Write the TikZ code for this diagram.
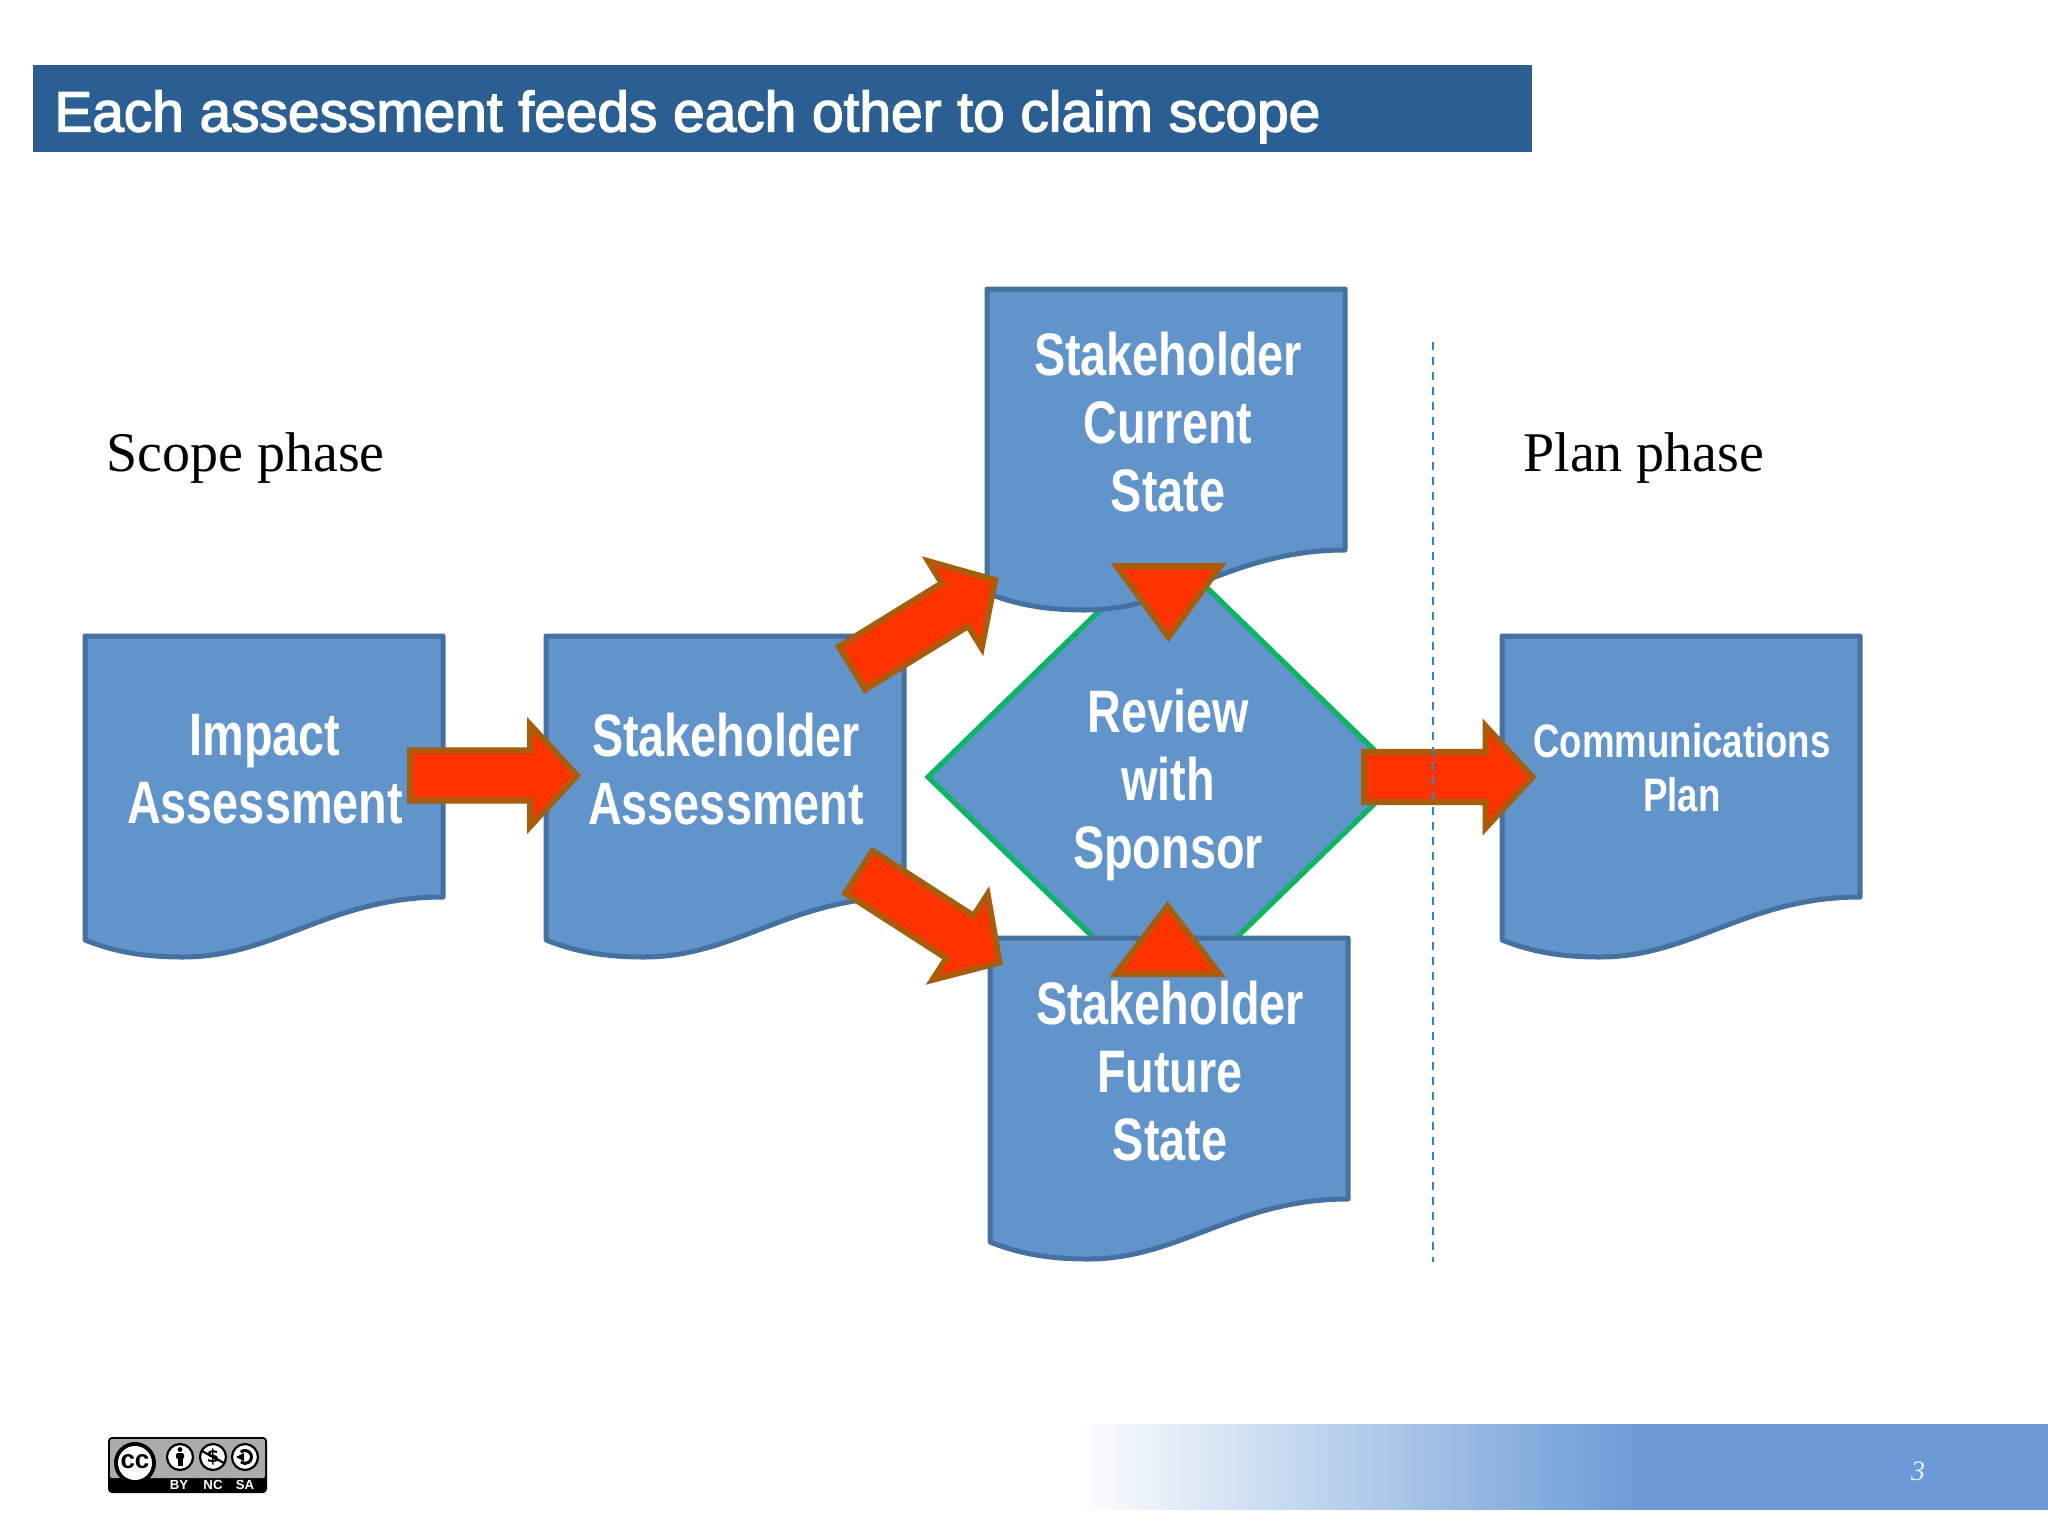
\documentclass[tikz,border=0pt]{standalone}
\usepackage{fontspec}
\setmainfont{Liberation Serif}
\newfontfamily\sansf{Liberation Sans}
\newfontfamily\titlef[FakeBold=2.5]{Liberation Sans}
\newfontfamily\docfont[FakeStretch=0.78]{Liberation Sans}
\newfontfamily\dejav{DejaVu Sans}
\usetikzlibrary{calc}
\definecolor{titleblue}{HTML}{2B5F93}
\definecolor{docfill}{HTML}{6094CB}
\definecolor{docedge}{HTML}{44719F}
\definecolor{arrowfill}{HTML}{FF3300}
\definecolor{arrowedge}{HTML}{A85C0C}
\definecolor{diamondedge}{HTML}{0CB464}
\definecolor{footblue}{HTML}{6A9BD6}
\definecolor{divider}{HTML}{2A8AC8}
\definecolor{badgegray}{HTML}{ABABAB}
\tikzset{
  x=0.5pt,y=-0.5pt,
  docshape/.style={draw=docedge,fill=docfill,line width=2.5pt,line join=round},
  doc/.pic={
    \draw[docshape] (0,0) -- (358,0) -- (358,261)
      .. controls (245,261) and (190,321) .. (98,321)
      .. controls (60,321) and (30,316) .. (0,304) -- cycle;
  },
  doctext/.style={text=white,align=center,font=\docfont\bfseries\fontsize{30}{34}\selectfont},
  smalltext/.style={text=white,align=center,font=\docfont\bfseries\fontsize{23.5}{27}\selectfont},
  phase/.style={text=black,anchor=base west,font=\fontsize{28}{30}\selectfont},
  blockarrow/.style={draw=arrowedge,fill=arrowfill,line width=3pt,miter limit=10,
    to path={let \p1=(\tikztostart),\p2=(\tikztotarget),\p3=($(\p2)!23.5pt!(\p1)$) in
      ($(\p1)!12.6pt!90:(\p2)$) -- ($(\p3)!12.6pt!90:(\p2)$) -- ($(\p3)!25.5pt!90:(\p2)$) -- (\p2)
      -- ($(\p3)!25.5pt!-90:(\p2)$) -- ($(\p3)!12.6pt!-90:(\p2)$) -- ($(\p1)!12.6pt!-90:(\p2)$) -- cycle}},
  triarrow/.style={draw=arrowedge,fill=arrowfill,line width=3pt,miter limit=10,
    to path={let \p1=(\tikztostart),\p2=(\tikztotarget) in
      ($(\p1)!26pt!90:(\p2)$) -- (\p2) -- ($(\p1)!26pt!-90:(\p2)$) -- cycle}},
  ccicon/.style={draw=black,fill=white,line width=1.1pt},
}
\begin{document}
\begin{tikzpicture}
\useasboundingbox (0,0) rectangle (2048,1536);
\fill[white] (0,0) rectangle (2048,1536);
% title
\fill[titleblue] (33,65) rectangle (1532,152);
\node[text=white,anchor=base west,inner sep=0pt,font=\titlef\fontsize{28.4}{32}\selectfont] (title) at (54,131.5) {Each assessment feeds each other to claim scope};
% footer
\begin{scope}
\clip (0,1424) rectangle (2048,1509);
\shade[left color=white,right color=footblue] (1070,1400) rectangle (1640,1530);
\fill[footblue] (1639,1400) rectangle (2048,1530);
\end{scope}
\node[text=white!85!footblue,font=\itshape\fontsize{14}{15}\selectfont] (pagenum) at (1918,1471) {3};
% phases
\node[phase,inner sep=0pt] (scope) at (106,471) {Scope phase};
\node[phase,inner sep=0pt] (plan) at (1523,471) {Plan phase};
% diamond
\draw[fill=docfill,draw=diamondedge,line width=2.6pt,line join=miter] (928,777) -- (1165,547) -- (1402,777) -- (1165,1007) -- cycle;
% documents
\pic at (85,636) {doc};
\pic at (546,636) {doc};
\pic at (1502,636) {doc};
\pic at (987,289) {doc};
\pic at (990,938) {doc};
% divider
\coordinate (divtop) at (1433,342);
\coordinate (divbot) at (1433,1262);
% arrow ends
\coordinate (a1s) at (410,775.5); \coordinate (a1e) at (577,775.5);
\coordinate (a2s) at (852,668); \coordinate (a2e) at (995,580);
\coordinate (a3s) at (859,872); \coordinate (a3e) at (999.5,962.5);
\coordinate (a4s) at (1364,777); \coordinate (a4e) at (1532.5,777);
\coordinate (t1s) at (1168.5,566); \coordinate (t1e) at (1168.5,637);
\coordinate (t2s) at (1167.5,974); \coordinate (t2e) at (1167.5,906);
\draw[blockarrow] (a1s) to (a1e);
\draw[blockarrow] (a2s) to (a2e);
\draw[blockarrow] (a3s) to (a3e);
\draw[blockarrow] (a4s) to (a4e);
\draw[triarrow] (t1s) to (t1e);
\draw[triarrow] (t2s) to (t2e);
\draw[divider,line width=1.4pt,dash pattern=on 4.2pt off 3.3pt] (divtop) -- (divbot);
% texts
\node[doctext] (impact) at (265,769) {Impact\\Assessment};
\node[doctext] (stake) at (726,769) {Stakeholder\\Assessment};
\node[doctext] (current) at (1168,422) {Stakeholder\\Current\\State};
\node[doctext] (future) at (1170,1071) {Stakeholder\\Future\\State};
\node[doctext] (review) at (1168,785) {Review\\with\\Sponsor};
\node[smalltext] (comm) at (1682,768) {Communications\\Plan};
% cc badge
\fill[black,rounded corners=2pt] (108,1437) rectangle (267,1493);
\fill[badgegray,rounded corners=1pt] (110,1439) rectangle (265,1478);
\fill[black] (135,1463) circle[radius=21];
\fill[white] (135,1463) circle[radius=17];
\node[font=\sansf\bfseries\fontsize{13}{14}\selectfont,text=black,inner sep=0pt] (cctext) at (135,1462) {cc};
\draw[ccicon] (180,1457) circle[radius=13];
\fill[black] (180,1449.5) circle[radius=2.4];
\fill[black,rounded corners=1pt] (176,1453) rectangle (184,1459);
\fill[black] (177.5,1458) rectangle (182.5,1466);
\draw[ccicon] (213,1457) circle[radius=13];
\node[font=\dejav\bfseries\fontsize{9}{10}\selectfont,text=black,inner sep=0pt] (nc) at (213,1457) {\$};
\draw[black,line width=1.1pt] (202,1451) -- (224,1463);
\draw[ccicon] (245,1457) circle[radius=13];
\draw[black,line width=1.5pt] (240.8,1452) arc[start angle=130,end angle=-130,radius=3.25pt];
\fill[black] (236,1457) -- (244,1453) -- (244,1461) -- cycle;
\node[font=\sansf\bfseries\fontsize{6.6}{7}\selectfont,text=white,inner sep=0pt] (by) at (179,1485) {BY};
\node[font=\sansf\bfseries\fontsize{6.6}{7}\selectfont,text=white,inner sep=0pt] (ncl) at (213,1485) {NC};
\node[font=\sansf\bfseries\fontsize{6.6}{7}\selectfont,text=white,inner sep=0pt] (sa) at (245,1485) {SA};
\end{tikzpicture}
\end{document}
